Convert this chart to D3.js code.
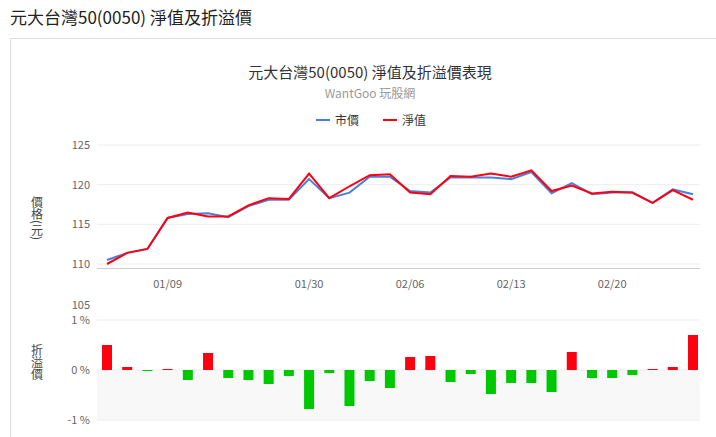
<!DOCTYPE html>
<html><head><meta charset="utf-8">
<script src="https://cdn.jsdelivr.net/npm/d3@7"></script>
<style>body{margin:0;background:#fff;font-family:"Noto Sans CJK TC","Noto Sans",sans-serif;}</style>
</head><body><div id="chart"></div>
<script>
var dates = ["01/04","01/05","01/08","01/09","01/10","01/11","01/12","01/15","01/16","01/17",
  "01/30","01/31","02/01","02/02","02/05","02/06","02/07","02/08","02/09","02/12",
  "02/13","02/14","02/15","02/16","02/19","02/20","02/21","02/22","02/23","02/26"];
var market = [110.5,111.4,111.9,115.8,116.3,116.4,115.9,117.3,118.1,118.1,
  120.7,118.3,119.0,121.0,121.0,119.2,119.0,120.9,120.9,120.9,
  120.7,121.6,118.9,120.2,118.8,119.0,119.0,117.7,119.4,118.8];
var nav = [110.0,111.4,111.9,115.8,116.5,116.0,116.0,117.4,118.3,118.2,
  121.4,118.3,119.8,121.2,121.3,119.0,118.8,121.1,121.0,121.4,
  121.0,121.8,119.2,119.9,118.9,119.1,119.0,117.7,119.3,118.1];
var premium = [0.50,0.06,-0.02,0.02,-0.20,0.34,-0.16,-0.20,-0.28,-0.12,
  -0.78,-0.06,-0.72,-0.22,-0.36,0.26,0.28,-0.24,-0.08,-0.48,
  -0.26,-0.26,-0.44,0.36,-0.16,-0.16,-0.10,0.02,0.06,0.70];
var tickDates = ["01/09","01/30","02/06","02/13","02/20"];
var priceTicks = [110,115,120,125];

var svg = d3.select("#chart").append("svg").attr("width", 716).attr("height", 437);

svg.append("text").attr("x", 10).attr("y", 24).attr("font-size", 17).attr("fill", "#222")
  .text("元大台灣50(0050) 淨值及折溢價");
svg.append("rect").attr("x", 10.5).attr("y", 38.5).attr("width", 720).attr("height", 420)
  .attr("fill", "none").attr("stroke", "#ddd");

svg.append("text").attr("x", 370).attr("y", 78).attr("text-anchor", "middle")
  .attr("font-size", 15).attr("fill", "#333").text("元大台灣50(0050) 淨值及折溢價表現");
svg.append("text").attr("x", 370).attr("y", 98).attr("text-anchor", "middle")
  .attr("font-size", 12).attr("fill", "#999").text("WantGoo 玩股網");

// legend
var legend = [["市價", "#4a7fe0", 316], ["淨值", "#ff0010", 383]];
legend.forEach(function(l) {
  svg.append("line").attr("x1", l[2]).attr("x2", l[2] + 14).attr("y1", 120).attr("y2", 120)
    .attr("stroke", l[1]).attr("stroke-width", 2);
  svg.append("text").attr("x", l[2] + 19).attr("y", 124.5).attr("font-size", 12).attr("fill", "#333").text(l[0]);
});

var left = 97, right = 700;
var x = d3.scalePoint().domain(dates).range([107, 693]);
var y = d3.scaleLinear().domain([110, 125]).range([264, 145]);

// price grid
svg.append("g").selectAll("line").data(priceTicks).enter().append("line")
  .attr("x1", left).attr("x2", right).attr("y1", d => y(d)).attr("y2", d => y(d))
  .attr("stroke", "#eee");
svg.append("g").selectAll("text").data(priceTicks).enter().append("text")
  .attr("x", 90).attr("y", d => y(d) + 4).attr("text-anchor", "end")
  .attr("font-size", 11).attr("fill", "#666").text(d => d);
svg.append("text").attr("x", 90).attr("y", 309).attr("text-anchor", "end")
  .attr("font-size", 11).attr("fill", "#666").text("105");
svg.append("line").attr("x1", left).attr("x2", right).attr("y1", 268.5).attr("y2", 268.5).attr("stroke", "#ccc");
svg.append("g").selectAll("text").data(tickDates).enter().append("text")
  .attr("x", d => x(d)).attr("y", 288).attr("text-anchor", "middle")
  .attr("font-size", 11).attr("fill", "#666").text(d => d);

var line = d3.line().x((d, i) => x(dates[i])).y(d => y(d));
svg.append("path").datum(market).attr("d", line).attr("fill", "none").attr("stroke", "#4a7fe0").attr("stroke-width", 2);
svg.append("path").datum(nav).attr("d", line).attr("fill", "none").attr("stroke", "#ff0010").attr("stroke-width", 2);

// axis titles (vertical)
svg.append("text").attr("x", 37).attr("y", 196).style("writing-mode", "vertical-rl")
  .attr("font-size", 12).attr("fill", "#444").text("價格(元)");
svg.append("text").attr("x", 37).attr("y", 344).style("writing-mode", "vertical-rl")
  .attr("font-size", 12).attr("fill", "#444").text("折溢價");

// premium chart
var yp = d3.scaleLinear().domain([-1, 1]).range([420, 320]);
svg.append("rect").attr("x", left).attr("y", yp(0)).attr("width", right - left).attr("height", yp(-1) - yp(0)).attr("fill", "#f8f8f8");
svg.append("g").selectAll("line").data([-1, 0, 1]).enter().append("line")
  .attr("x1", left).attr("x2", right).attr("y1", d => yp(d)).attr("y2", d => yp(d)).attr("stroke", "#eee");
svg.append("g").selectAll("text").data([-1, 0, 1]).enter().append("text")
  .attr("x", 90).attr("y", d => yp(d) + 4).attr("text-anchor", "end")
  .attr("font-size", 11).attr("fill", "#666").text(d => d === 0 ? "0 %" : (d > 0 ? "1 %" : "-1 %"));
svg.append("g").selectAll("rect").data(premium).enter().append("rect")
  .attr("x", (d, i) => x(dates[i]) - 5).attr("width", 10)
  .attr("y", d => yp(Math.max(0, d))).attr("height", d => Math.max(1, Math.abs(yp(d) - yp(0))))
  .attr("fill", d => d >= 0 ? "#ff0010" : "#00c800");
</script></body></html>
